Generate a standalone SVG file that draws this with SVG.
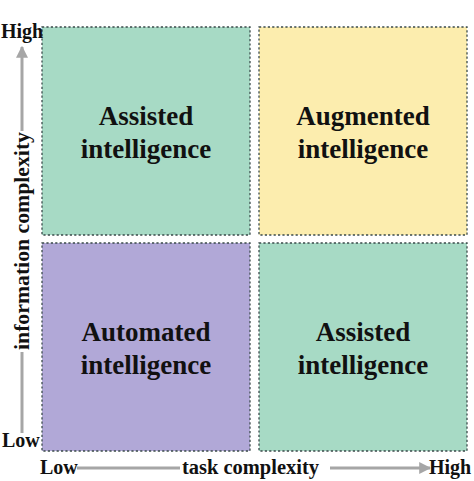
<svg xmlns="http://www.w3.org/2000/svg" width="474" height="481" viewBox="0 0 474 481">
<defs>
<style>
.box{stroke:#3a4a4a;stroke-width:1.3;stroke-dasharray:2.2 2.2}
.g{fill:#a7dac5}.y{fill:#fcedae}.p{fill:#b1a8d7}
.t{font-family:"Liberation Serif","Times New Roman",serif;font-weight:bold;font-size:27px;fill:#111;text-anchor:middle}
.ax{font-family:"Liberation Serif","Times New Roman",serif;font-weight:bold;font-size:20px;fill:#111}
.ln{stroke:#a6a6a6;stroke-width:3;fill:none}
</style>
<marker id="ah" viewBox="0 0 10 10" refX="9" refY="5" markerWidth="4" markerHeight="4" orient="auto" markerUnits="strokeWidth">
<path d="M0,0 L10,5 L0,10 z" fill="#a6a6a6"/>
</marker>
</defs>
<rect width="474" height="481" fill="#fff"/>
<g id="q-assisted-top">
<rect class="box g" x="42" y="27" width="208" height="208"/>
<text class="t" x="146" y="125">Assisted</text>
<text class="t" x="146" y="158">intelligence</text>
</g>
<g id="q-augmented">
<rect class="box y" x="259" y="27" width="208" height="208"/>
<text class="t" x="363" y="125">Augmented</text>
<text class="t" x="363" y="158">intelligence</text>
</g>
<g id="q-automated">
<rect class="box p" x="42" y="243" width="208" height="208"/>
<text class="t" x="146" y="341">Automated</text>
<text class="t" x="146" y="374">intelligence</text>
</g>
<g id="q-assisted-bottom">
<rect class="box g" x="259" y="243" width="208" height="208"/>
<text class="t" x="363" y="341">Assisted</text>
<text class="t" x="363" y="374">intelligence</text>
</g>
<g id="connectors">
<line class="ln" x1="22" y1="433" x2="22" y2="352"/>
<line class="ln" x1="22" y1="131" x2="22" y2="47" marker-end="url(#ah)"/>
<line class="ln" x1="77" y1="468" x2="180" y2="468"/>
<line class="ln" x1="330" y1="468" x2="430" y2="468" marker-end="url(#ah)"/>
</g>
<g id="labels">
<text class="ax" x="1" y="38">High</text>
<text class="ax" x="2" y="447">Low</text>
<text class="ax" x="40" y="474">Low</text>
<text class="ax" x="429" y="474">High</text>
<text class="ax" x="182" y="474" textLength="137" lengthAdjust="spacingAndGlyphs">task complexity</text>
<text class="ax" transform="translate(29,350) rotate(-90)" textLength="218" lengthAdjust="spacingAndGlyphs">information complexity</text>
</g>
</svg>
